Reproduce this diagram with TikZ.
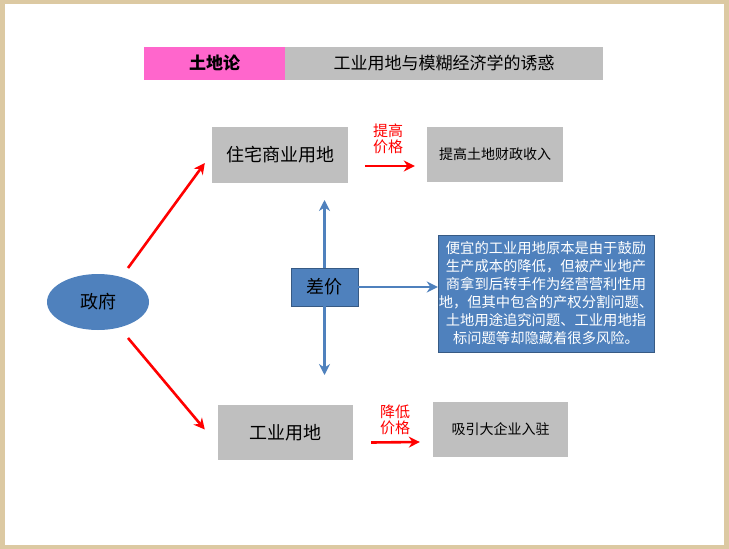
\documentclass[tikz,border=0pt]{standalone}
\usepackage{fontspec}
\setmainfont{Noto Sans CJK SC}
\usetikzlibrary{shapes.geometric,arrows.meta,calc}
\definecolor{frame}{HTML}{DCC9A2}
\definecolor{bl}{HTML}{4F81BD}
\definecolor{gr}{HTML}{BFBFBF}
\definecolor{pk}{HTML}{FF66CC}
\tikzset{
 gbox/.style={fill=gr,minimum width=#1,inner sep=0pt},
 bbox/.style={fill=bl,draw=bl!70!black,line width=0.4pt,text=white,inner sep=0pt},
 rarr/.style={red,line width=2.6pt,-{Stealth[length=11pt,width=11pt]}},
 barr/.style={bl,line width=2.6pt,-{Stealth[length=11pt,width=11pt]}},
 lbl/.style={red,font=\fontsize{15}{16}\selectfont,align=center}
}
\begin{document}
\begin{tikzpicture}[x=1pt,y=-1pt]
\useasboundingbox (0,0) rectangle (729,549);
\fill[frame] (0,0) rectangle (729,549);
\fill[white] (5,4) rectangle (724,545);
% title
\node[fill=pk,minimum width=141,minimum height=33,inner sep=0pt,font=\bfseries\fontsize{17}{18}\selectfont] (t1) at (214.5,63.5) {土地论};
\node[fill=gr,minimum width=318,minimum height=33,inner sep=0pt,font=\fontsize{17}{18}\selectfont] (t2) at (444,63.5) {工业用地与模糊经济学的诱惑};
% boxes
\node[gbox=136,minimum height=56,font=\fontsize{18}{19}\selectfont] (zz) at (280,155) {住宅商业用地};
\node[gbox=136,minimum height=55,font=\fontsize{14}{15}\selectfont] (tg) at (495,154.5) {提高土地财政收入};
\node[gbox=135,minimum height=55,font=\fontsize{18}{19}\selectfont] (gy) at (285.5,432.5) {工业用地};
\node[gbox=135,minimum height=55,font=\fontsize{14}{15}\selectfont] (xy) at (500.5,429.5) {吸引大企业入驻};
\node[ellipse,fill=bl,minimum width=102,minimum height=56,inner sep=0pt,font=\fontsize{18}{19}\selectfont] (zf) at (98,302) {政府};
\node[bbox,minimum width=67,minimum height=38,text=black,font=\fontsize{18}{19}\selectfont] (cj) at (324.5,287) {差价};
\node[bbox,minimum width=216,minimum height=117,align=center,font=\fontsize{14.3}{18}\selectfont] (tx) at (546,293.5) {便宜的工业用地原本是由于鼓励\\生产成本的降低，但被产业地产\\商拿到后转手作为经营营利性用\\地，但其中包含的产权分割问题、\\土地用途追究问题、工业用地指\\标问题等却隐藏着很多风险。};
% arrows
\draw[rarr] ($(zf.center)+(30,-34)$) -- ($(zz.west)+(-7,8)$);
\draw[rarr] ($(zf.center)+(30,36)$) -- ($(gy.west)+(-13,-3)$);
\draw[rarr] ($(zz.east)+(17,11)$) -- ($(tg.west)+(-12,11.5)$);
\draw[rarr] ($(gy.east)+(18,10)$) -- ($(xy.west)+(-13,12.5)$);
\draw[barr] (cj.north) -- (cj.north |- 0,200);
\draw[barr] (cj.south) -- (cj.south |- 0,375);
\draw[barr] (cj.east) -- (cj.east -| tx.west);
\node[lbl] at (388,139) {提高\\价格};
\node[lbl] at (395,420) {降低\\价格};
\end{tikzpicture}
\end{document}
